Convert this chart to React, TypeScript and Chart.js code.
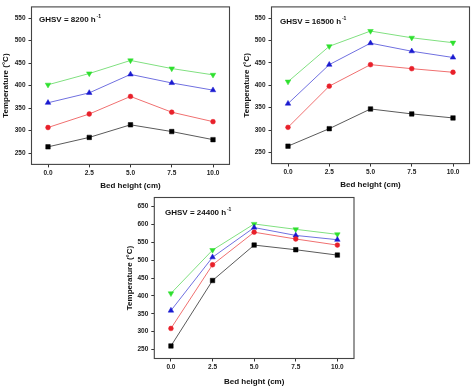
import React, { useEffect, useRef } from "react";
import { Chart, registerables } from "chart.js";

Chart.register(...registerables);

// ---- data ----
const bedHeights = [0, 2.5, 5, 7.5, 10];
const xTickValues = [0, 2.5, 5, 7.5, 10];
const yTicksLow = [250, 300, 350, 400, 450, 500, 550];
const yTicksHigh = [250, 300, 350, 400, 450, 500, 550, 600, 650];

const ghsv8200Black = [264, 285, 313, 298, 280];
const ghsv8200Red = [307, 337, 376, 341, 320];
const ghsv8200Blue = [362, 384, 425, 406, 390];
const ghsv8200Green = [402, 427, 456, 438, 424];

const ghsv16500Black = [264, 303, 347, 336, 327];
const ghsv16500Red = [306, 398, 446, 437, 429];
const ghsv16500Blue = [359, 446, 494, 476, 462];
const ghsv16500Green = [408, 487, 521, 506, 495];

const ghsv24400Black = [260, 443, 542, 529, 514];
const ghsv24400Red = [309, 487, 578, 559, 542];
const ghsv24400Blue = [359, 508, 591, 569, 557];
const ghsv24400Green = [407, 528, 601, 586, 572];

const xTitle = "Bed height (cm)";
const yTitle = "Temperature (°C)";

const W = 474;
const H = 387;
const FONT = '"Liberation Sans", Arial, sans-serif';

type Panel = {
  ghsv: string;
  series: number[][];
  yMin: number;
  yMax: number;
  yTicks: number[];
  plot: { l: number; t: number; r: number; b: number };
  yAxisW: number;
  xAxisH: number;
  dx: number;
  dy: number;
};

const panels: Panel[] = [
  {
    ghsv: "8200",
    series: [ghsv8200Black, ghsv8200Red, ghsv8200Blue, ghsv8200Green],
    yMin: 225,
    yMax: 575,
    yTicks: yTicksLow,
    plot: { l: 31.5, t: 4.6, r: 229.5, b: 164.4 },
    yAxisW: 31,
    xAxisH: 26.1,
    dx: 7.5,
    dy: 12.4,
  },
  {
    ghsv: "16500",
    series: [ghsv16500Black, ghsv16500Red, ghsv16500Blue, ghsv16500Green],
    yMin: 225,
    yMax: 575,
    yTicks: yTicksLow,
    plot: { l: 271.5, t: 1.4, r: 472, b: 163.6 },
    yAxisW: 29.3,
    xAxisH: 25.5,
    dx: 8.5,
    dy: 14.6,
  },
  {
    ghsv: "24400",
    series: [ghsv24400Black, ghsv24400Red, ghsv24400Blue, ghsv24400Green],
    yMin: 225,
    yMax: 675,
    yTicks: yTicksHigh,
    plot: { l: 154.3, t: 197.5, r: 354, b: 358.5 },
    yAxisW: 29.1,
    xAxisH: 28,
    dx: 10.7,
    dy: 15.5,
  },
];

const seriesStyles = [
  { marker: "#000000", line: "#5a5a5a", pointStyle: "rect", radius: 3.2, rotation: 0 },
  { marker: "#e8202a", line: "#f07070", pointStyle: "circle", radius: 2.4, rotation: 0 },
  { marker: "#1a1ad0", line: "#7070e0", pointStyle: "triangle", radius: 3.2, rotation: 0 },
  { marker: "#2ee02e", line: "#80e080", pointStyle: "triangle", radius: 3.2, rotation: 180 },
];

const framePlugin = {
  id: "frameAnnot",
  afterDraw(chart: any, _args: any, opts: any) {
    const { ctx, chartArea: a } = chart;
    ctx.save();
    ctx.strokeStyle = "#444";
    ctx.lineWidth = 1.1;
    ctx.strokeRect(a.left, a.top, a.right - a.left, a.bottom - a.top);
    ctx.fillStyle = "#111";
    ctx.textBaseline = "middle";
    ctx.textAlign = "left";
    ctx.font = `bold 8px ${FONT}`;
    const main = `GHSV = ${opts.ghsv} h`;
    const x = a.left + opts.dx;
    const y = a.top + opts.dy;
    ctx.fillText(main, x, y);
    const w = ctx.measureText(main).width;
    ctx.font = `bold 5px ${FONT}`;
    ctx.fillText("-1", x + w + 0.8, y - 3);
    ctx.restore();
  },
};

function PanelChart({ p }: { p: Panel }) {
  const ref = useRef<HTMLCanvasElement | null>(null);
  useEffect(() => {
    if (!ref.current) return;
    const tickFont = { family: FONT, size: 6.5, weight: "bold" as const };
    const titleFont = { family: FONT, size: 8, weight: "bold" as const };
    const chart = new Chart(ref.current, {
      type: "line",
      data: {
        datasets: p.series.map((vals, i) => ({
          data: bedHeights.map((x, k) => ({ x, y: vals[k] })),
          borderColor: seriesStyles[i].line,
          borderWidth: 1,
          backgroundColor: seriesStyles[i].marker,
          pointBackgroundColor: seriesStyles[i].marker,
          pointBorderColor: seriesStyles[i].marker,
          pointBorderWidth: 0.5,
          pointStyle: seriesStyles[i].pointStyle as any,
          pointRadius: seriesStyles[i].radius,
          pointRotation: seriesStyles[i].rotation,
          tension: 0,
          fill: false,
        })),
      },
      options: {
        animation: false,
        responsive: false,
        devicePixelRatio: 1,
        events: [],
        layout: {
          padding: {
            left: p.plot.l - p.yAxisW,
            right: W - p.plot.r,
            top: p.plot.t,
            bottom: H - p.plot.b - p.xAxisH,
          },
        },
        plugins: {
          legend: { display: false },
          tooltip: { enabled: false },
          frameAnnot: { ghsv: p.ghsv, dx: p.dx, dy: p.dy },
        } as any,
        scales: {
          x: {
            type: "linear",
            min: -1,
            max: 11,
            afterBuildTicks: (s: any) => {
              s.ticks = xTickValues.map((v) => ({ value: v }));
            },
            afterFit: (s: any) => {
              s.height = p.xAxisH;
            },
            grid: { display: true, drawOnChartArea: false, drawTicks: true, tickLength: 3, color: "#333", lineWidth: 1 },
            border: { display: false },
            ticks: {
              font: tickFont,
              color: "#222",
              padding: 2,
              autoSkip: false,
              maxRotation: 0,
              callback: (v: any) => Number(v).toFixed(1),
            },
            title: { display: true, text: xTitle, font: titleFont, color: "#111", padding: 0 },
          },
          y: {
            type: "linear",
            min: p.yMin,
            max: p.yMax,
            afterBuildTicks: (s: any) => {
              s.ticks = p.yTicks.map((v) => ({ value: v }));
            },
            afterFit: (s: any) => {
              s.width = p.yAxisW;
            },
            grid: { display: true, drawOnChartArea: false, drawTicks: true, tickLength: 3, color: "#333", lineWidth: 1 },
            border: { display: false },
            ticks: {
              font: tickFont,
              color: "#222",
              padding: 3,
              autoSkip: false,
              callback: (v: any) => String(v),
            },
            title: { display: true, text: yTitle, font: titleFont, color: "#111", padding: 0 },
          },
        },
      },
      plugins: [framePlugin as any],
    });
    return () => chart.destroy();
  }, [p]);
  return (
    <canvas
      ref={ref}
      width={W}
      height={H}
      style={{ position: "absolute", left: 0, top: 0, width: W, height: H }}
    />
  );
}

export default function App() {
  return (
    <div
      style={{
        position: "fixed",
        left: 0,
        top: 0,
        width: W,
        height: H,
        background: "#ffffff",
        overflow: "hidden",
      }}
    >
      {panels.map((p) => (
        <PanelChart key={p.ghsv} p={p} />
      ))}
    </div>
  );
}
